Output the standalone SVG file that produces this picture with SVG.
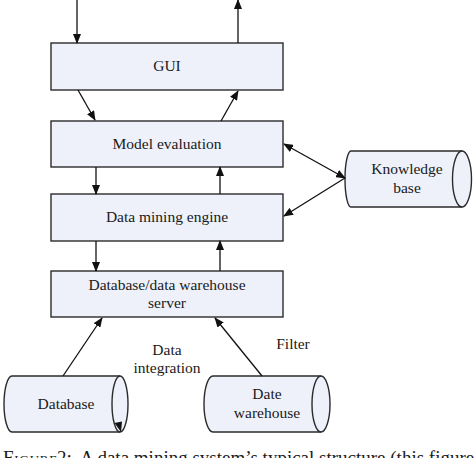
<svg xmlns="http://www.w3.org/2000/svg" width="474" height="458" viewBox="0 0 474 458">
<defs>
<marker id="ah" markerWidth="10" markerHeight="8" refX="9" refY="4" orient="auto-start-reverse" markerUnits="userSpaceOnUse">
<path d="M0,0 L10,4 L0,8 Z" fill="#111"/>
</marker>
<style>
.box{fill:#eef1fa;stroke:#2b2b2b;stroke-width:1.4}
.cyl{fill:#eef1fa;stroke:#2b2b2b;stroke-width:1.4}
.inner{fill:none;stroke:#2b2b2b;stroke-width:1.4}
.t{font-family:"Liberation Serif","Times New Roman",serif;font-size:15.5px;fill:#1a1a1a;text-anchor:middle}
.c{stroke:#111;stroke-width:1.3;fill:none;marker-end:url(#ah)}
.cb{stroke:#111;stroke-width:1.3;fill:none;marker-end:url(#ah);marker-start:url(#ah)}
</style>
</defs>
<rect width="474" height="458" fill="#ffffff"/>
<g id="gui">
<rect class="box" x="51" y="43" width="232" height="47"/>
<text class="t" x="167" y="71">GUI</text>
</g>
<g id="model-evaluation">
<rect class="box" x="51" y="121" width="232" height="46"/>
<text class="t" x="167" y="148.5">Model evaluation</text>
</g>
<g id="data-mining-engine">
<rect class="box" x="51" y="194" width="232" height="47"/>
<text class="t" x="167" y="222">Data mining engine</text>
</g>
<g id="db-server">
<rect class="box" x="51" y="271" width="232" height="46"/>
<text class="t" x="167" y="289.5">Database/data warehouse</text>
<text class="t" x="167" y="308">server</text>
</g>
<g id="knowledge-base">
<path class="cyl" d="M351,151 L462,151 A9.5,28 0 0 1 462,207 L351,207 A6,28 0 0 1 351,151 Z"/>
<path class="inner" d="M462,151 A9.5,28 0 0 0 462,207"/>
<text class="t" x="407" y="173.5">Knowledge</text>
<text class="t" x="407" y="192.5">base</text>
</g>
<g id="database">
<path class="cyl" d="M12,376 L120,376 A8,28 0 0 1 120,432 L12,432 A8,28 0 0 1 12,376 Z"/>
<path class="inner" d="M120,376 A8,28 0 0 0 120,432"/>
<path d="M114.5,423 L121,432 L122,421.5 Z" fill="#111"/>
<text class="t" x="66" y="408.5">Database</text>
</g>
<g id="date-warehouse">
<path class="cyl" d="M213,376 L321,376 A9,28 0 0 1 321,432 L213,432 A9,28 0 0 1 213,376 Z"/>
<path class="inner" d="M321,376 A9,28 0 0 0 321,432"/>
<text class="t" x="267" y="398.5">Date</text>
<text class="t" x="267" y="417.5">warehouse</text>
</g>
<g id="connectors">
<line class="c" x1="77" y1="0" x2="77" y2="43"/>
<line class="c" x1="238" y1="43" x2="238" y2="0"/>
<line class="c" x1="78" y1="90" x2="95" y2="120"/>
<line class="c" x1="221" y1="121" x2="238" y2="91"/>
<line class="c" x1="96" y1="167" x2="96" y2="194"/>
<line class="c" x1="220" y1="194" x2="220" y2="167"/>
<line class="c" x1="96" y1="241" x2="96" y2="271"/>
<line class="c" x1="220" y1="271" x2="220" y2="241"/>
<line class="cb" x1="284" y1="144" x2="345" y2="178"/>
<line class="c" x1="345" y1="178" x2="284" y2="216"/>
<line class="c" x1="63" y1="376" x2="102" y2="318"/>
<line class="c" x1="262" y1="376" x2="215" y2="318"/>
</g>
<g id="labels">
<text class="t" x="167" y="354.5">Data</text>
<text class="t" x="167" y="372.5">integration</text>
<text class="t" x="293" y="348.5">Filter</text>
</g>
<g id="caption">
<text x="3" y="464" style="font-family:'Liberation Serif','Times New Roman',serif;font-size:19px;fill:#1a1a1a"><tspan style="font-variant:small-caps;letter-spacing:0.8px">Figure</tspan><tspan x="57">2:</tspan><tspan x="80">A data mining system’s typical structure (this figure is</tspan></text>
</g>
</svg>
